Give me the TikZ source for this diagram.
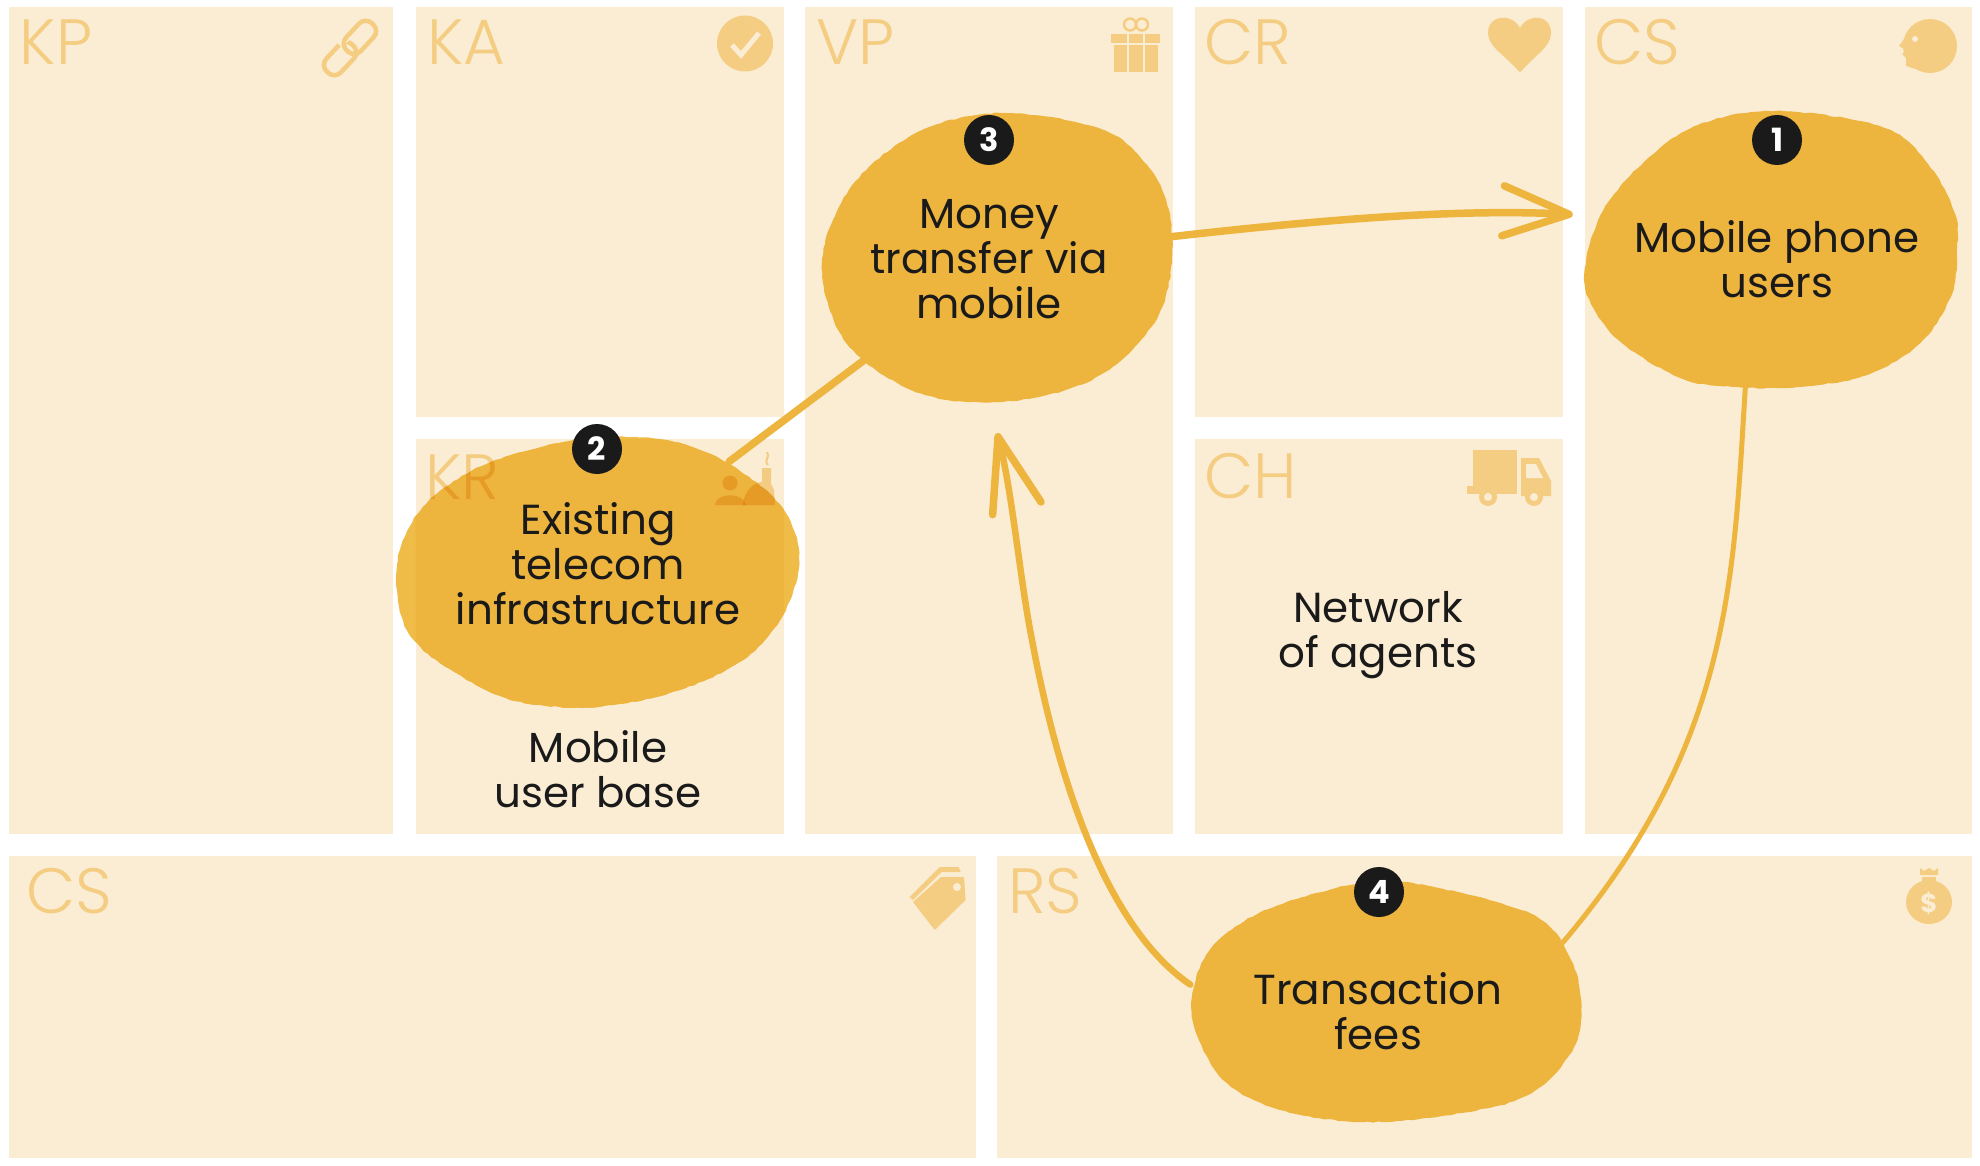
\documentclass[tikz,border=0pt]{standalone}
\usepackage{fontspec}
\setmainfont{Poppins}
\newfontfamily\lblfont[UprightFont={* Light}]{Poppins}
\newfontfamily\txtfont{Poppins}
\usetikzlibrary{shapes.geometric,arrows.meta,decorations.pathmorphing}
\definecolor{cellbg}{HTML}{FBEDD3}
\definecolor{faint}{HTML}{F4CD82}
\definecolor{faintm}{HTML}{F8DC9D}
\definecolor{blob}{HTML}{EDB43E}
\definecolor{blobl}{HTML}{F0BC48}
\definecolor{ink}{HTML}{1A1A1A}
\pgfdeclarelayer{front}
\pgfsetlayers{main,front}
\tikzset{
  x=1pt,y=-1pt,
  cell/.style={anchor=north west,fill=cellbg,inner sep=0pt,outer sep=0pt},
  lbl/.style={anchor=base west,inner sep=0pt,text=faint,font=\fontsize{64}{64}\selectfont\lblfont},
  say/.style={align=center,inner sep=0pt,text=ink,font=\fontsize{42}{45}\selectfont\txtfont},
  blobtext/.style={say,ellipse,minimum width=#1},
  rough/.style={decorate,decoration={random steps,segment length=5pt,amplitude=.6pt}},
  blobfill/.style={fill=blob,rough},
  badge/.style={circle,fill=ink,text=white,minimum size=50pt,inner sep=0pt,font=\fontsize{32}{32}\selectfont\bfseries},
  conn/.style={draw=blob,line cap=round,line join=round},
  head/.style={-{Straight Barb[length=#1,width=50pt,round,line width=7.5pt]}},
  ic/.style={fill=faint},
  icl/.style={draw=faint,line width=4.5pt},
}
\newcommand{\kroutline}{plot[smooth cycle,tension=.6] coordinates {(633,437) (680,443) (727,463) (773,497) (795,533) (798,573) (780,620) (743,660) (680,690) (613,705) (560,707) (503,697) (440,663) (407,630) (397,590) (400,550) (423,507) (473,470) (530,450) (587,438)}}
\begin{document}
\begin{tikzpicture}
\pgfmathsetseed{7}
\useasboundingbox (0,0) rectangle (1980,1166);
\fill[white] (0,0) rectangle (1980,1166);
% cells
\node[cell,minimum width=384pt,minimum height=827pt] (kp) at (9,7) {};
\node[cell,minimum width=368pt,minimum height=410pt] (ka) at (415.5,7) {};
\node[cell,minimum width=368pt,minimum height=395pt] (kr) at (415.5,439) {};
\node[cell,minimum width=368pt,minimum height=827pt] (vpc) at (805,7) {};
\node[cell,minimum width=368pt,minimum height=410pt] (cr) at (1195,7) {};
\node[cell,minimum width=368pt,minimum height=395pt] (ch) at (1195,439) {};
\node[cell,minimum width=386.5pt,minimum height=827pt] (csc) at (1585,7) {};
\node[cell,minimum width=966.5pt,minimum height=302pt] (cost) at (9,856) {};
\node[cell,minimum width=974.5pt,minimum height=302pt] (rev) at (997,856) {};
% labels
\node[lbl] (lkp) at (19.5,65) {KP};
\node[lbl] (lka) at (427,65) {KA};
\node[lbl] (lvp) at (816,65) {VP};
\node[lbl] (lcr) at (1204,65) {CR};
\node[lbl] (lcs) at (1594,65) {CS};
\node[lbl] (lch) at (1204,498) {CH};
\node[lbl] (lco) at (26,913) {CS};
\node[lbl] (lrs) at (1008,913) {RS};
% link icon
\begin{scope}[shift={(350,48)},rotate=47]
  \draw[icl,rounded corners=9pt] (-33pt,-10pt) rectangle (4pt,10pt);
  \draw[cellbg,line width=8pt] (-5pt,10pt) -- (9pt,10pt);
  \draw[icl,rounded corners=9pt] (-4pt,-10pt) rectangle (33pt,10pt);
  \draw[cellbg,line width=3pt] (-9pt,-6pt) -- (-9pt,6pt);
\end{scope}
% check icon
\fill[ic] (745,43.5) circle[radius=28pt];
\draw[cellbg,line width=5pt] (732,45) -- (741,55) -- (759,33);
% gift icon
\fill[ic] (1111,34) rectangle (1160,43);
\fill[ic] (1114,45.5) rectangle (1158,72.5);
\fill[cellbg] (1126.5,34) rectangle (1128.5,72.5);
\fill[cellbg] (1143,34) rectangle (1145,72.5);
\draw[faint,line width=2.5pt] (1130,24.5) circle[radius=6pt];
\draw[faint,line width=2.5pt] (1142,24.5) circle[radius=6pt];
% heart icon
\fill[ic] (1520,72.5) .. controls (1505,55) and (1488,47) .. (1488,33)
  .. controls (1488,14) and (1512,13) .. (1520,28)
  .. controls (1528,13) and (1551,14) .. (1551,33)
  .. controls (1551,47) and (1535,55) .. (1520,72.5) -- cycle;
% face icon
\fill[ic] (1930,46) ellipse[x radius=27pt,y radius=27pt];
\fill[ic] (1912,28) -- (1899,46) -- (1906,50) -- (1902,54) -- (1906,58) -- (1906,66) -- (1925,72) -- cycle;
\fill[cellbg] (1915,39) circle[radius=3pt];
% truck icon
\fill[ic] (1473,450) rectangle (1517,494);
\fill[ic] (1467,486) rectangle (1517,494);
\fill[ic] (1521,458) -- (1539,458) -- (1551,481) -- (1551,496) -- (1521,496) -- cycle;
\fill[cellbg] (1526,464) -- (1536,464) -- (1543,478) -- (1526,478) -- cycle;
\fill[ic] (1488,497) circle[radius=9pt];
\fill[cellbg] (1488,497) circle[radius=4pt];
\fill[ic] (1534,497) circle[radius=9pt];
\fill[cellbg] (1534,497) circle[radius=4pt];
% tag icon
\fill[ic] (909.5,897) -- (939.6,867) -- (958.6,867) -- (960.7,872) -- (941.7,872) -- (913,900) -- cycle;
\fill[ic] (964,877) -- (965.6,900) -- (934.7,930) -- (913,902) -- (941,877) -- cycle;
\fill[cellbg] (957,887) circle[radius=4pt];
% money bag icon
\fill[ic] (1929,902) ellipse[x radius=23pt,y radius=22pt];
\fill[ic] (1922,877) rectangle (1936,882);
\fill[ic] (1920,868) -- (1924,871) -- (1929,868) -- (1934,871) -- (1938,868) -- (1938,875) -- (1920,875) -- cycle;
\node[inner sep=0pt,text=cellbg,font=\fontsize{26}{26}\selectfont\bfseries] (dollar) at (1929,903) {\$};
% text nodes that carry the blobs' anchors
\begin{pgfonlayer}{front}
\node[blobtext=350pt,minimum height=286pt] (vp) at (989,259) {Money\\transfer via\\mobile};
\node[blobtext=372pt,minimum height=256pt] (cs) at (1777,259) {Mobile phone\\users};
\node[blobtext=402pt,minimum height=270pt] (res) at (598,564) {Existing\\telecom\\infrastructure};
\node[blobtext=386pt,minimum height=222pt] (fee) at (1378,1011) {Transaction\\fees};
\node[say] (base) at (598,769) {Mobile\\user base};
\node[say] (net) at (1378,635) {Network\\of agents};
\node[badge] (b3) at (989,140) {3};
\node[badge] (b1) at (1777,140) {1};
\node[badge] (b2) at (597,449) {2};
\node[badge] (b4) at (1379,892) {4};
\end{pgfonlayer}
% blobs
\fill[blobfill] plot[smooth cycle,tension=.6] coordinates {(1025,114) (1101,129) (1140,157) (1166,200) (1172,257) (1159,314) (1117,364) (1063,391) (994,402) (925,395) (864,361) (834,321) (822,264) (837,211) (868,168) (918,132) (971,116)};
\fill[blobfill] plot[smooth cycle,tension=.6] coordinates {(1775,111) (1882,127) (1928,164) (1955,214) (1957,250) (1951,296) (1920,343) (1867,375) (1798,387) (1737,387) (1683,379) (1622,343) (1591,304) (1585,268) (1603,211) (1645,161) (1698,125)};
\pgfmathsetseed{11}
\fill[blobl,rough] \kroutline;
\begin{scope}
\clip (415.5,439) rectangle (783.5,834);
\pgfmathsetseed{11}
\fill[blobfill] \kroutline;
\end{scope}
\fill[blobfill] plot[smooth cycle,tension=.6] coordinates {(1413,883) (1497,902) (1546,923) (1571,960) (1581,1000) (1574,1047) (1532,1093) (1462,1113) (1364,1122) (1280,1110) (1227,1083) (1199,1040) (1192,997) (1210,950) (1259,913) (1336,888) (1378,883)};
% connectors
\draw[conn,line width=7.5pt,head=66pt,shorten >=15pt] (vp.7) .. controls (1300,222) and (1450,208) .. (cs.167.5);
\draw[conn,line width=7.5pt] (res.38) -- (vp.219);
\draw[conn,line width=5pt] (cs.256) .. controls (1733,581) and (1733,751) .. (fee.17);
\coordinate (bend) at (1032,640);
\draw[conn,line width=6.5pt,head=74pt,shorten >=32pt] (fee.172) .. controls (1110,930) and (1060,790) .. (bend) .. controls (1020,580) and (1012,490) .. (vp.270);
% KR label and its icon show through the blob
\begin{scope}[blend mode=multiply]
\node[lbl,text=faintm] (lkr) at (425,499) {KR};
\fill[faintm] (730,483) circle[radius=7.5pt];
\fill[faintm] (715,505) .. controls (716,492) and (744,492) .. (746,505) -- cycle;
\fill[faintm] (743,505) .. controls (744,490) and (755,482) .. (762,482) -- (762,468) -- (771,468) -- (771,484) -- (774,490) -- (775,505) -- cycle;
\draw[faintm,line width=2pt] (768,465) .. controls (763,460) and (771,457) .. (767,452);
\end{scope}
\end{tikzpicture}
\end{document}
